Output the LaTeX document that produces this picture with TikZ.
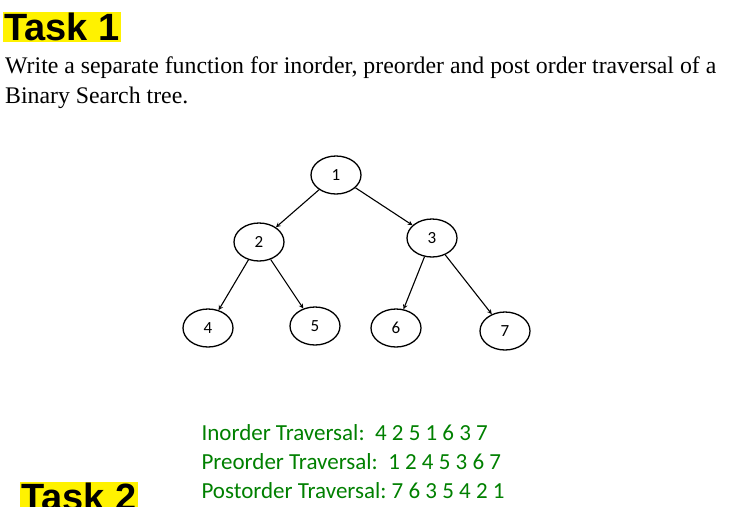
\documentclass[tikz,border=0pt]{standalone}
\usepackage{fontspec}
\usetikzlibrary{shapes.geometric}
\setmainfont{Liberation Serif}
\newfontfamily\arialf{Liberation Sans}
\newfontfamily\calf{Carlito}
\begin{document}
\begin{tikzpicture}[x=1pt,y=-1pt,
  tn/.style={draw,ellipse,line width=1.3pt,minimum width=50pt,minimum height=38pt,inner sep=0pt,font=\calf\fontsize{17}{17}\selectfont},
  ed/.style={-stealth,line width=1.1pt},
  ttl/.style={fill=yellow,inner sep=1pt,anchor=north west,font=\arialf\bfseries\fontsize{38}{38}\selectfont},
  grn/.style={anchor=west,text=green!50!black,font=\calf\fontsize{23}{23}\selectfont}]
\useasboundingbox (0,0) rectangle (741,506);
\begin{scope}
\clip (0,0) rectangle (741,506);
\node[ttl] (t1) at (3,12) {Task 1};
\node[ttl] (t2) at (20,482) {Task 2};
\end{scope}
\node[anchor=north west,inner sep=0pt,align=left,font=\fontsize{23.8}{30}\selectfont] (txt) at (5,57) {Write a separate function for inorder, preorder and post order traversal of a\\Binary Search tree.};
\node[tn] (n1) at (336,175) {1};
\node[tn] (n2) at (259,242) {2};
\node[tn] (n3) at (432,238) {3};
\node[tn] (n4) at (208,328) {4};
\node[tn] (n5) at (315,326) {5};
\node[tn] (n6) at (396,328) {6};
\node[tn] (n7) at (505,331) {7};
\draw[ed] (n1) -- (n2);
\draw[ed] (n1) -- (n3);
\draw[ed] (n2) -- (n4);
\draw[ed] (n2) -- (n5);
\draw[ed] (n3) -- (n6);
\draw[ed] (n3) -- (n7);
\node[grn] (l1) at (198,433) {Inorder Traversal:\ \ 4 2 5 1 6 3 7};
\node[grn] (l2) at (198,462) {Preorder Traversal:\ \ 1 2 4 5 3 6 7};
\node[grn] (l3) at (198,491) {Postorder Traversal:\ 7 6 3 5 4 2 1};
\end{tikzpicture}
\end{document}
